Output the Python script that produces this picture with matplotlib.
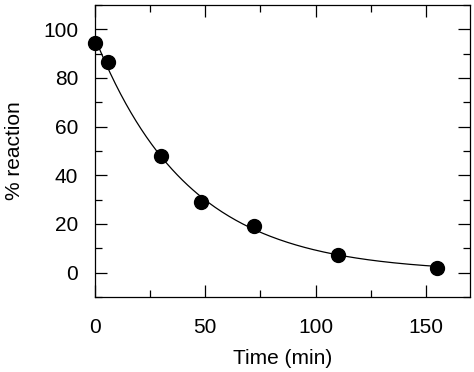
import numpy as np
import matplotlib
matplotlib.use("Agg")
import matplotlib.pyplot as plt
from matplotlib.ticker import MultipleLocator

plt.rcParams['font.family'] = ['Liberation Sans', 'DejaVu Sans']

# data
time_min = [0, 6, 30, 48, 72, 110, 155]
pct_reaction = [94.5, 86.5, 47.7, 29.1, 19.0, 7.0, 2.0]

# first-order decay fit through the points
t = np.array(time_min, dtype=float)
y = np.array(pct_reaction, dtype=float)
slope, intercept = np.polyfit(t, np.log(y), 1, w=y)
t_fit = np.linspace(0, 155, 200)
y_fit = np.exp(intercept + slope * t_fit)

fig = plt.figure(figsize=(4.74, 3.72), dpi=100)
ax = fig.add_axes([0.200, 0.202, 0.792, 0.785])

ax.plot(t_fit, y_fit, color='black', lw=0.9)
ax.plot(time_min, pct_reaction, 'o', color='black', ms=10, clip_on=False)

ax.set_xlim(0, 170)
ax.set_ylim(-10, 110)
ax.xaxis.set_major_locator(MultipleLocator(50))
ax.xaxis.set_minor_locator(MultipleLocator(25))
ax.yaxis.set_major_locator(MultipleLocator(20))
ax.yaxis.set_minor_locator(MultipleLocator(10))
ax.tick_params(which='both', direction='in', top=True, right=True, width=0.9)
ax.tick_params(which='major', length=8.5, labelsize=15)
ax.tick_params(which='minor', length=5)
ax.tick_params(axis='x', pad=15)
ax.tick_params(axis='y', pad=12)
for s in ax.spines.values():
    s.set_linewidth(0.9)

ax.set_xlabel('Time (min)', fontsize=15, labelpad=9)
ax.set_ylabel('% reaction', fontsize=15, labelpad=14)

fig.savefig('out.png', dpi=100)
